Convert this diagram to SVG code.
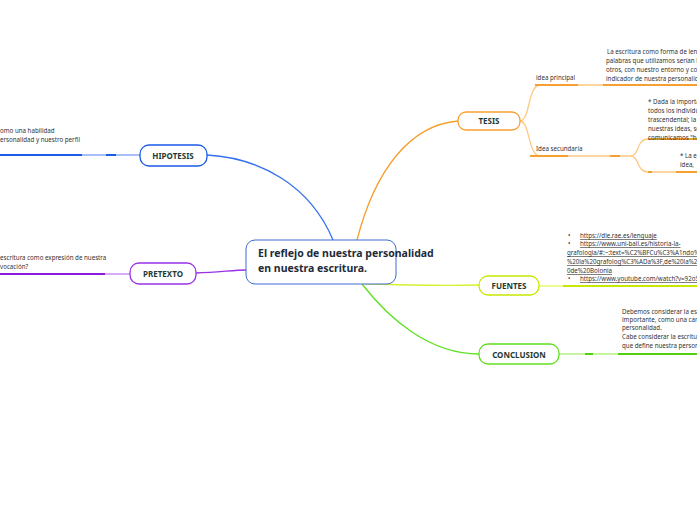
<svg xmlns="http://www.w3.org/2000/svg" width="697" height="520" viewBox="0 0 697 520">
<style>
text{font-family:"Noto Sans","Open Sans",sans-serif;}
.s{font-size:6.2px;fill:#333}
.n{font-size:8px;font-weight:bold;fill:#1d3b33;text-anchor:middle}
.u{text-decoration:underline}
</style>
<rect width="697" height="520" fill="#fff"/>
<g id="connectors" fill="none" stroke-width="1.3">
<path d="M357 240 C375 170,410 125,458 121" stroke="#f5a030"/>
<path d="M520 121 C530 121,528 85,540 85 L697 85" stroke="#ffc880"/>
<path d="M535 85 H578 M603 85 H697" stroke="#f5a030" stroke-width="1.8"/>
<path d="M520 121 C530 121,528 156,540 156 L630 156" stroke="#ffc880"/>
<path d="M530 156 H568 M610 156 H620" stroke="#f5a030" stroke-width="1.8"/>
<path d="M630 156 C640 156,636 139,648 139 H697 M630 156 C640 156,636 172,648 172 H697" stroke="#ffc880"/>
<path d="M648 139 H697 M648 172 H652 M676 172 H697" stroke="#f5a030" stroke-width="1.8"/>
<path d="M207 155 C260 158,310 185,333 240" stroke="#3570f0"/>
<path d="M0 155 H140" stroke="#8aaaf8"/>
<path d="M0 155 H82 M106 155 H116" stroke="#1a5ae8" stroke-width="1.8"/>
<path d="M196 273 C220 272,235 270,246 270" stroke="#9a30e8"/>
<path d="M0 274 H130" stroke="#c890f5"/>
<path d="M0 274 H105" stroke="#8a1ae0" stroke-width="1.8"/>
<path d="M365 284 C400 285,440 286,479 285" stroke="#d8f030"/>
<path d="M539 286 H697" stroke="#e8f870"/>
<path d="M563 286 H697" stroke="#c8e800" stroke-width="1.8"/>
<path d="M362 284 C390 320,430 354,479 354" stroke="#60e020"/>
<path d="M559 354 H697" stroke="#b0f080"/>
<path d="M585 354 H593 M618 354 H697" stroke="#50d010" stroke-width="1.8"/>
</g>
<g id="central">
<rect x="246" y="240" width="150" height="44" rx="9" fill="#fff" stroke="#3a6ad0" stroke-width="1"/>
<text x="258" y="257" style="font-size:10.5px;font-weight:bold;fill:#1d2b3a">El reflejo de nuestra personalidad</text>
<text x="258" y="272" style="font-size:10.5px;font-weight:bold;fill:#1d2b3a">en nuestra escritura.</text>
</g>
<g id="tesis">
<rect x="458" y="112" width="62" height="18" rx="8" fill="#fff" stroke="#f5a030" stroke-width="1.3"/>
<text x="489" y="124" class="n">TESIS</text>
<text x="536" y="80" class="s">idea principal</text>
<text x="607" y="54" class="s">La escritura como forma de lenguaje, las</text>
<text x="606" y="63" class="s">palabras que utilizamos serían la forma de</text>
<text x="606" y="72" class="s">otros, con nuestro entorno y con nosotros, un</text>
<text x="606" y="81" class="s">indicador de nuestra personalidad.</text>
<text x="536" y="151" class="s">Idea  secundaria</text>
<text x="648" y="104" class="s">* Dada la importancia</text>
<text x="648" y="113" class="s">todos los individuos</text>
<text x="648" y="122" class="s">trascendental; la</text>
<text x="648" y="131" class="s">nuestras ideas, so</text>
<text x="648" y="140" class="s">comunicamos "ha</text>
<text x="680" y="158" class="s">* La e</text>
<text x="680" y="167" class="s">idea, </text>
</g>
<g id="hipotesis">
<rect x="140" y="145" width="67" height="21" rx="9" fill="#fff" stroke="#1a5ae8" stroke-width="1.3"/>
<text x="173" y="159" class="n">HIPOTESIS</text>
<text x="0" y="133" class="s">omo una habilidad</text>
<text x="0" y="142" class="s">ersonalidad y nuestro perfil</text>
</g>
<g id="pretexto">
<rect x="130" y="263" width="66" height="21" rx="9" fill="#fff" stroke="#9a30e8" stroke-width="1.3"/>
<text x="163" y="277" class="n">PRETEXTO</text>
<text x="0" y="260" class="s">escritura como expresión de nuestra</text>
<text x="0" y="269" class="s">vocación?</text>
</g>
<g id="fuentes">
<rect x="479" y="276" width="60" height="19" rx="9" fill="#fff" stroke="#c8e800" stroke-width="1.3"/>
<text x="509" y="289" class="n">FUENTES</text>
<text x="568" y="238" class="s">•</text><text x="580" y="238" class="s u">https://dle.rae.es/lenguaje</text>
<text x="568" y="246" class="s">•</text><text x="580" y="246" class="s u">https://www.uni-ball.es/historia-la-</text>
<text x="567" y="255" class="s u">grafologia/#:~:text=%C2%BFCu%C3%A1ndo%</text>
<text x="567" y="264" class="s u">%20la%20grafolog%C3%ADa%3F,de%20la%20</text>
<text x="567" y="273" class="s u">0de%20Bolonia</text>
<text x="568" y="281" class="s">•</text><text x="580" y="281" class="s u">https://www.youtube.com/watch?v=92oS2l</text>
</g>
<g id="conclusion">
<rect x="479" y="344" width="80" height="20" rx="9" fill="#fff" stroke="#60e020" stroke-width="1.3"/>
<text x="519" y="358" class="n">CONCLUSION</text>
<text x="622" y="314" class="s">Debemos considerar la esc</text>
<text x="622" y="322" class="s">importante, como una carta</text>
<text x="622" y="330" class="s">personalidad.</text>
<text x="622" y="339" class="s">Cabe considerar la escritur</text>
<text x="622" y="348" class="s">que define nuestra person</text>
</g>
</svg>
